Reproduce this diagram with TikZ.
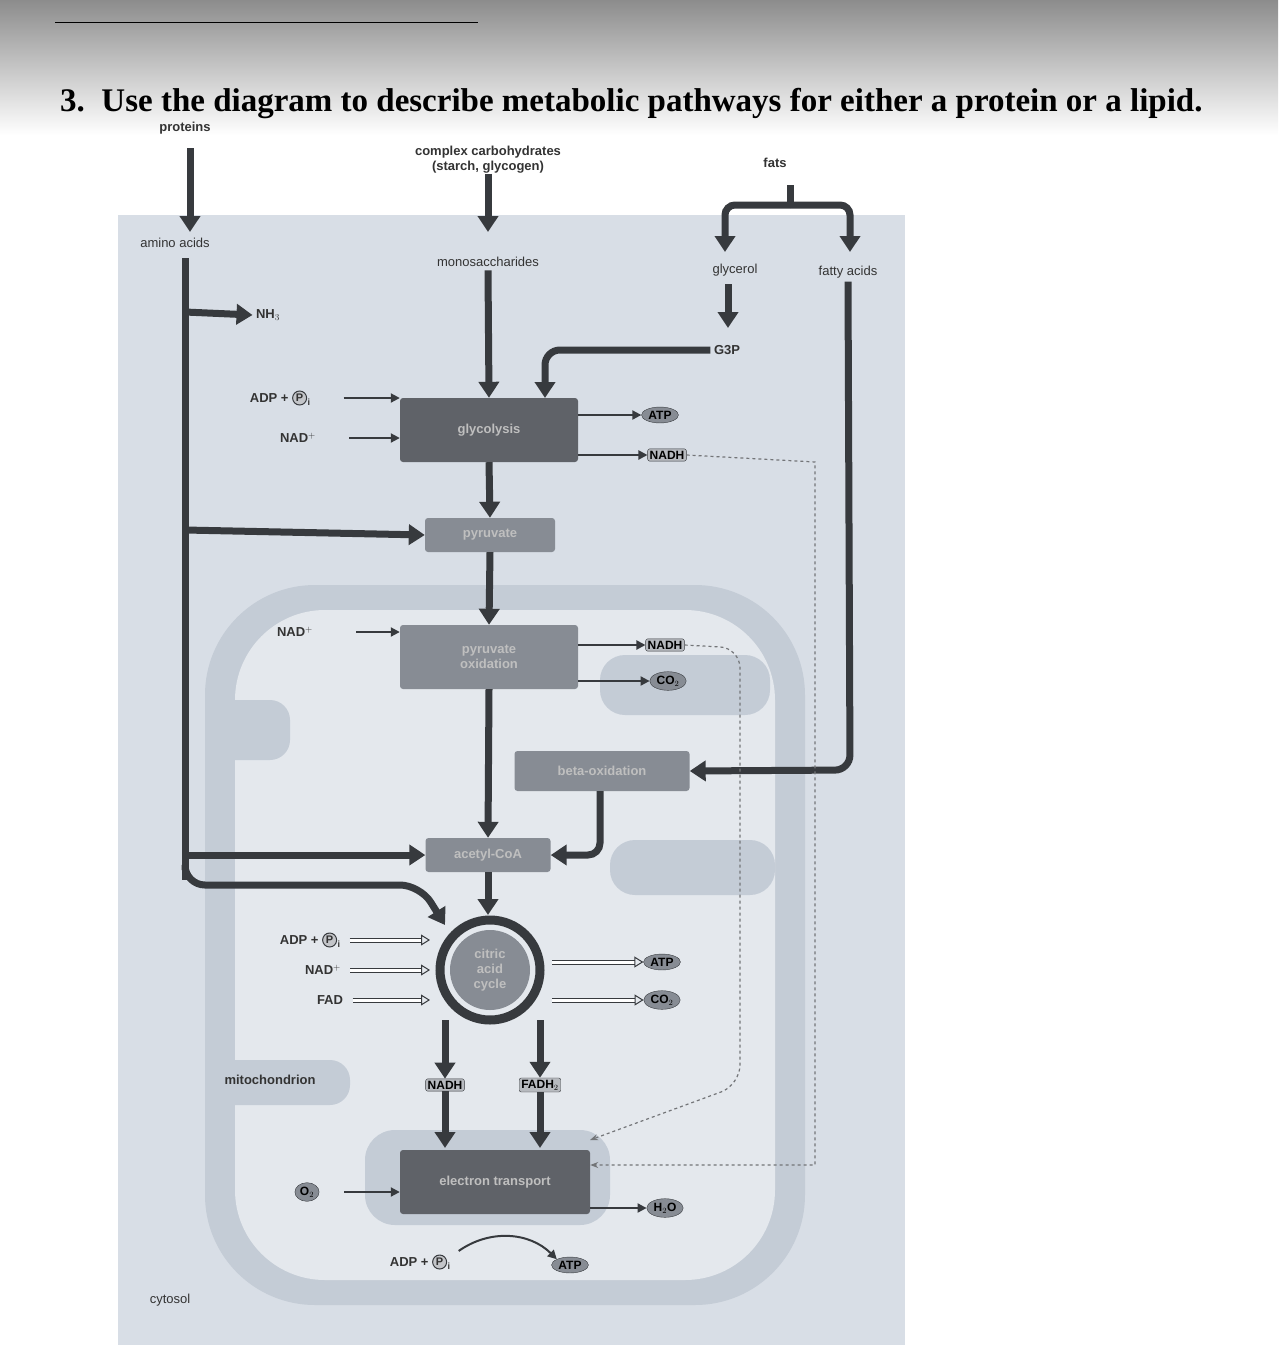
\documentclass[tikz,border=0pt]{standalone}
\usepackage{fontspec}
\setmainfont{Liberation Serif}
\setsansfont{Liberation Sans}
\usetikzlibrary{arrows.meta,shapes.geometric}
\definecolor{panel}{RGB}{216,222,230}
\definecolor{mito}{RGB}{196,204,214}
\definecolor{dbox}{RGB}{95,98,104}
\definecolor{mbox}{RGB}{135,140,148}
\definecolor{arr}{RGB}{55,58,62}
\newcommand{\Pcirc}{\tikz[baseline=-0.7ex]\node[circle,draw=arr,line width=1pt,fill=mbox!50,inner sep=1pt,minimum size=14pt,font=\sffamily\bfseries\fontsize{11}{11}\selectfont]{P};\kern0.5pt{\fontsize{9}{9}\selectfont\raisebox{-0.5ex}{i}}}
\tikzset{
 lab/.style={font=\sffamily\bfseries\fontsize{13}{15}\selectfont,text=black!80},
 dk/.style={fill=dbox,rounded corners=3pt,text=black!25,font=\sffamily\bfseries\fontsize{13}{15}\selectfont},
 md/.style={fill=mbox,rounded corners=3pt,text=black!25,font=\sffamily\bfseries\fontsize{13}{15}\selectfont},
 sm/.style={draw=arr,fill=mbox!60,rounded corners=2pt,inner sep=2pt,font=\sffamily\bfseries\fontsize{12}{14}\selectfont},
 ov/.style={draw=arr,fill=mbox,ellipse,inner sep=1.5pt,font=\sffamily\bfseries\fontsize{12}{14}\selectfont},
 thick arrow/.style={line width=7pt,draw=arr,-{Triangle[length=16pt,width=20pt]}},
 thickline/.style={line width=7pt,draw=arr},
 thin arrow/.style={line width=2pt,draw=arr,-{Triangle[length=9pt,width=9pt]}},
 openarr/.style={double=white,double distance=3pt,line width=1pt,draw=arr,-{Triangle[open,length=9pt,width=11pt]}},
 dsh/.style={line width=1.2pt,draw=arr!70,dashed,-{Stealth[length=8pt]}}
}
\begin{document}
\begin{tikzpicture}[x=1pt,y=-1pt]
\useasboundingbox (0,0) rectangle (1278,1352);
\fill[white] (0,0) rectangle (1278,1352);
\shade[top color=black!45,bottom color=white] (0,0) rectangle (1278,135);
\draw[line width=1pt] (55,22) -- (478,22);
\node[anchor=west,font=\bfseries\fontsize{33}{36}\selectfont,inner sep=0pt] (title) at (60,104) {3.\enspace Use the diagram to describe metabolic pathways for either a protein or a lipid.};
% panel
\fill[panel] (118,215) rectangle (905,1345);
% mitochondrion
\fill[mito,rounded corners=110pt] (205,585) rectangle (805,1305);
\fill[panel!70!white,rounded corners=90pt] (235,610) rectangle (775,1280);
\fill[mito,rounded corners=25pt] (600,655) rectangle (770,715);
\fill[mito,rounded corners=25pt] (610,840) rectangle (775,895);
\fill[mito,rounded corners=20pt] (215,700) rectangle (290,760);
\fill[mito,rounded corners=20pt] (215,1060) rectangle (350,1105);
\fill[mito,rounded corners=30pt] (365,1130) rectangle (610,1225);
% labels
\node[lab] (proteins) at (185,128) {proteins};
\node[lab,align=center,inner sep=0pt] (carbs) at (488,160) {complex carbohydrates\\(starch, glycogen)};
\node[lab] (fats) at (775,163) {fats};
\node[lab,font=\sffamily\fontsize{13}{15}\selectfont] (amino) at (175,243) {amino acids};
\node[lab,font=\sffamily\fontsize{13}{15}\selectfont] (mono) at (488,262) {monosaccharides};
\node[lab,font=\sffamily\fontsize{13}{15}\selectfont] (glycerol) at (735,270) {glycerol};
\node[lab,font=\sffamily\fontsize{13}{15}\selectfont] (fatty) at (848,272) {fatty acids};
\node[lab] (nh3) at (268,315) {NH$_3$};
\node[lab] (g3p) at (727,350) {G3P};
% boxes
\node[dk,minimum width=178pt,minimum height=64pt] (glyc) at (489,430) {glycolysis};
\node[md,minimum width=130pt,minimum height=34pt] (pyr) at (490,535) {pyruvate};
\node[md,minimum width=178pt,minimum height=64pt,align=center] (pyrox) at (489,657) {pyruvate\\oxidation};
\node[md,minimum width=175pt,minimum height=40pt] (beta) at (602,771) {beta-oxidation};
\node[md,minimum width=125pt,minimum height=34pt] (acoa) at (488,855) {acetyl-CoA};
\node[dk,minimum width=190pt,minimum height=64pt] (et) at (495,1182) {electron transport};
% small
\node[ov] (atp1) at (660,415) {ATP};
\node[sm] (nadh1) at (667,455) {NADH};
\node[sm] (nadh2) at (665,645) {NADH};
\node[ov] (co2a) at (668,681) {CO$_2$};
\node[ov] (atp2) at (662,962) {ATP};
\node[ov] (co2b) at (662,1000) {CO$_2$};
\node[sm] (nadh3) at (445,1085) {NADH};
\node[sm] (fadh) at (540,1085) {FADH$_2$};
\node[ov] (o2) at (307,1192) {O$_2$};
\node[ov] (h2o) at (665,1208) {H$_2$O};
\node[ov] (atp3) at (570,1265) {ATP};
\node[lab] (adp3) at (420,1262) {ADP + \Pcirc};
\node[lab] (adp1) at (280,398) {ADP + \Pcirc};
\node[lab] (nad1) at (298,438) {NAD$^+$};
\node[lab] (nad2) at (295,632) {NAD$^+$};
\node[lab] (adp2) at (310,940) {ADP + \Pcirc};
\node[lab] (nad3) at (323,970) {NAD$^+$};
\node[lab] (fad) at (330,1000) {FAD};
\node[lab] (mitol) at (270,1080) {mitochondrion};
\node[lab,font=\sffamily\fontsize{13}{15}\selectfont] (cyt) at (170,1300) {cytosol};
% citric acid cycle
\coordinate (cc) at (490,970);
\draw[line width=9pt,draw=arr] (cc) circle (50pt);
\node[circle,fill=mbox,minimum size=80pt,align=center,font=\sffamily\bfseries\fontsize{13}{15}\selectfont,text=black!25,inner sep=0pt] (cac) at (cc) {citric\\acid\\cycle};
% proteins pathway
\coordinate (p0) at (190,148);
\draw[thick arrow] (p0) -- (190,232);
\coordinate (p1) at (185,258);
\draw[thickline] (p1) -- (185,880);
\draw[thick arrow] (185,312) -- (nh3.west);
\draw[thick arrow] (185,530) -- (pyr.west);
\draw[thick arrow] (185,855) -- (acoa.west);
\draw[thick arrow,rounded corners=20pt] (185,870) -- (185,885) -- (420,885) -- (445,925);
% carbs
\draw[thick arrow] (carbs.south) -- (488,232);
\draw[thick arrow] (mono.south) -- (glyc.north);
\draw[thick arrow] (glyc.south) -- (pyr.north);
\draw[thick arrow] (pyr.south) -- (pyrox.north);
\draw[thick arrow] (pyrox.south) -- (acoa.north);
\draw[thick arrow] (acoa.south) -- (488,915);
% fats
\coordinate (f0) at (790,185);
\draw[thickline] (f0) -- (790,205);
\draw[thick arrow,rounded corners=10pt] (790,205) -- (725,205) -- (725,252);
\draw[thick arrow,rounded corners=10pt] (790,205) -- (850,205) -- (850,252);
\draw[thick arrow] (728,284) -- (728,328);
\draw[thick arrow,rounded corners=15pt] (g3p.west) -- (545,350) -- (545,398);
\draw[thick arrow,rounded corners=15pt] (fatty.south) -- (850,770) -- (beta.east);
\coordinate (b0) at (600,791);
\draw[thick arrow,rounded corners=12pt] (b0) -- (600,855) -- (acoa.east);
% cycle outputs
\draw[thick arrow] (445,1020) -- (nadh3.north);
\draw[thick arrow] (540,1020) -- (fadh.north);
\draw[thick arrow] (nadh3.south) -- (445,1148);
\draw[thick arrow] (fadh.south) -- (540,1148);
% thin arrows
\draw[thin arrow] ([xshift=30pt]adp1.east) -- (glyc.west |- adp1);
\draw[thin arrow] ([xshift=30pt]nad1.east) -- (glyc.west |- nad1);
\draw[thin arrow] (glyc.east |- atp1) -- (atp1.west);
\draw[thin arrow] (glyc.east |- nadh1) -- (nadh1.west);
\draw[thin arrow] ([xshift=40pt]nad2.east) -- (pyrox.west |- nad2);
\draw[thin arrow] (pyrox.east |- nadh2) -- (nadh2.west);
\draw[thin arrow] (pyrox.east |- co2a) -- (co2a.west);
\draw[thin arrow] ([xshift=25pt]o2.east) -- (et.west |- o2);
\draw[thin arrow] (et.east |- h2o) -- (h2o.west);
\draw[thin arrow,bend left=40] ([xshift=5pt]adp3.north east) to (atp3.north west);
% open arrows
\draw[openarr] ([xshift=6pt]adp2.east) -- (430,940);
\draw[openarr] ([xshift=6pt]nad3.east) -- (430,970);
\draw[openarr] ([xshift=6pt]fad.east) -- (430,1000);
\draw[openarr] (552,962) -- (atp2.west);
\draw[openarr] (552,1000) -- (co2b.west);
% dashed
\draw[dsh] (nadh1.east) -- (815,462) -- (815,1165) -- (et.east |- 0,1165);
\draw[dsh,rounded corners=20pt] (nadh2.east) -- (740,648) -- (740,1085) -- (590,1140);
\end{tikzpicture}
\end{document}
